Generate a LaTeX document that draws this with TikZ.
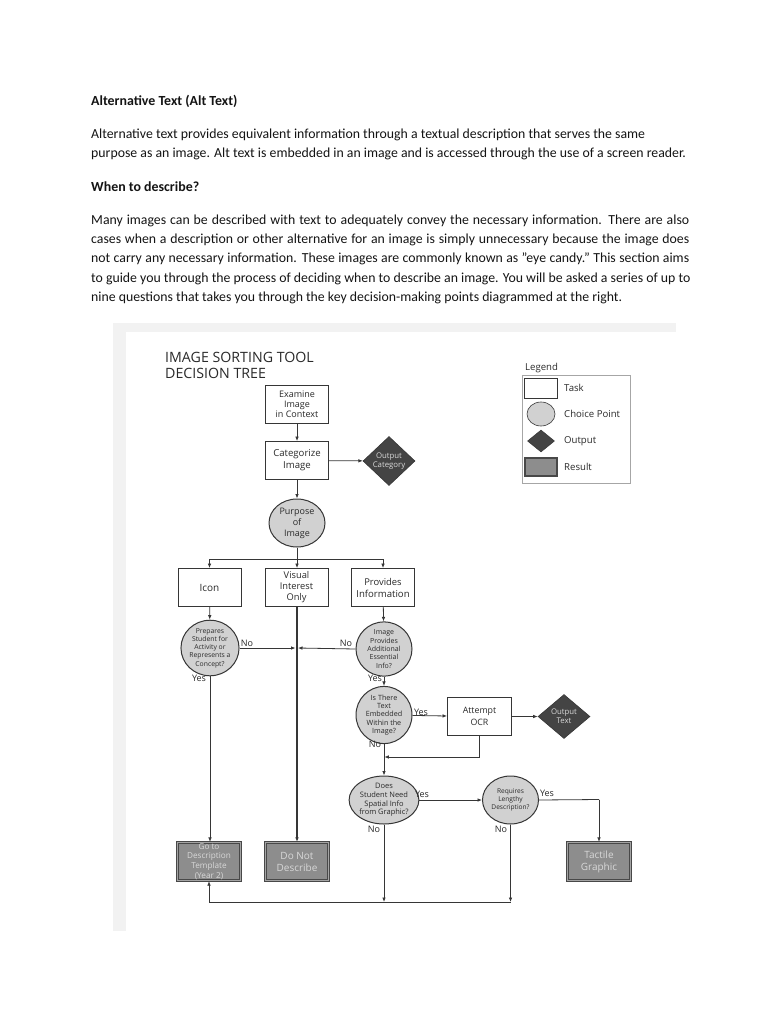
\documentclass[tikz,border=0pt]{standalone}
\usepackage{fontspec}
\setmainfont{Carlito}
\newfontfamily\dfont{Open Sans}
\usetikzlibrary{shapes.geometric,arrows.meta}
\definecolor{ln}{HTML}{363636}
\definecolor{txt}{HTML}{141414}
\definecolor{dtxt}{HTML}{2A2A2A}
\definecolor{chfill}{HTML}{D1D1D1}
\definecolor{outfill}{HTML}{444444}
\definecolor{resfill}{HTML}{8D8D8D}
\definecolor{resline}{HTML}{484848}
\definecolor{restxt}{HTML}{D8D8D8}
\definecolor{framegray}{HTML}{F2F2F2}
\newcommand{\jline}[1]{\makebox[598pt][s]{#1}}
\begin{document}
\begin{tikzpicture}[x=1pt,y=-1pt,
  body/.style={anchor=base west, inner sep=0, text=txt, font=\fontsize{13.8}{16}\selectfont},
  head/.style={body, font=\fontsize{13.9}{16}\selectfont\bfseries},
  task/.style={draw=ln, fill=white, line width=0.9pt, inner sep=0, align=center,
    minimum width=63pt, minimum height=38pt, text=dtxt, font=\dfont\fontsize{9}{10}\selectfont},
  choice/.style={ellipse, draw=ln, fill=chfill, line width=1pt, inner sep=0, align=center,
    minimum width=56pt, minimum height=48pt, text=dtxt, font=\dfont\fontsize{7}{8.3}\selectfont},
  outp/.style={diamond, draw=ln, fill=outfill, line width=0.6pt, inner sep=0, align=center,
    minimum width=52pt, minimum height=44pt, text=restxt, font=\dfont\fontsize{7.8}{9}\selectfont},
  result/.style={draw=resline, fill=resfill, line width=1.3pt, double=resfill!80!white, double distance=0.5pt,
    inner sep=0, align=center, minimum width=63pt, minimum height=38pt, text=restxt,
    font=\dfont\fontsize{10}{12}\selectfont},
  conn/.style={draw=ln, line width=0.8pt},
  arr/.style={conn, -{Latex[length=4.5pt,width=3.6pt]}},
  lab/.style={inner sep=0, text=dtxt, font=\dfont\fontsize{9}{10}\selectfont},
  leg/.style={anchor=west, inner sep=0, text=dtxt, font=\dfont\fontsize{9.6}{10}\selectfont}]
\useasboundingbox (0,0) rectangle (768,1024);
\fill[white] (0,0) rectangle (768,1024);

% ---------- page text ----------
\node[head] (t1) at (91,105.5) {Alternative Text (Alt Text)};
\node[body] (p1) at (91,138.5) {Alternative text provides equivalent information through a textual description that serves the same};
\node[body] (p2) at (91,158) {purpose as an image. Alt text is embedded in an image and is accessed through the use of a screen reader.};
\node[head] (t2) at (91,191.3) {When to describe?};
\node[body] (q1) at (91,224.3) {\jline{Many images can be described with text to adequately convey the necessary information. There are also}};
\node[body] (q2) at (91,243.6) {\jline{cases when a description or other alternative for an image is simply unnecessary because the image does}};
\node[body] (q3) at (91,262.9) {\jline{not carry any necessary information. These images are commonly known as "eye candy." This section aims}};
\node[body] (q4) at (91,282.2) {to guide you through the process of deciding when to describe an image. You will be asked a series of up to};
\node[body] (q5) at (91,301.5) {nine questions that takes you through the key decision-making points diagrammed at the right.};

% ---------- diagram frame ----------
\fill[framegray] (113,323) rectangle (676,931);
\fill[white] (126,332) rectangle (676,931);

\node[anchor=west, inner sep=0, text=dtxt, align=left, font=\dfont\fontsize{14.2}{16}\selectfont] (title) at (165,365) {IMAGE SORTING TOOL\\DECISION TREE};

% ---------- legend ----------
\node[anchor=west, inner sep=0, text=dtxt, font=\dfont\fontsize{9.6}{10}\selectfont] (legt) at (525,368) {Legend};
\draw[draw=black!35, line width=0.5pt] (522,375) rectangle (630,483);
\node[draw=ln, fill=white, line width=0.6pt, minimum width=33pt, minimum height=20pt, inner sep=0] (lt) at (541,388.5) {};
\node[ellipse, draw=ln, fill=chfill, line width=0.6pt, minimum width=28pt, minimum height=24pt, inner sep=0] (lc) at (541,414) {};
\node[diamond, draw=ln, fill=outfill, line width=0.5pt, minimum width=27pt, minimum height=22pt, inner sep=0] (lo) at (541,441) {};
\node[draw=resline, fill=resfill, line width=1.1pt, minimum width=32pt, minimum height=18pt, inner sep=0] (lr) at (541,467) {};
\node[leg] (ltt) at (564,388) {Task};
\node[leg] (lct) at (564,414) {Choice Point};
\node[leg] (lot) at (564,441) {Output};
\node[leg] (lrt) at (564,467) {Result};

% ---------- nodes ----------
\node[task] (examine) at (297,404.5) {Examine\\Image\\in Context};
\node[task, font=\dfont\fontsize{9.6}{12}\selectfont] (categ) at (297,460.5) {Categorize\\Image};
\node[outp] (outcat) at (389,461) {Output\\Category};
\node[choice, font=\dfont\fontsize{9}{11}\selectfont] (purpose) at (297,523) {Purpose\\of\\Image};

\node[task, font=\dfont\fontsize{10}{10}\selectfont] (icon) at (209.5,587.5) {Icon};
\node[task, font=\dfont\fontsize{9.3}{11}\selectfont] (visual) at (296.5,587.5) {Visual\\Interest\\Only};
\node[task, font=\dfont\fontsize{9.4}{12}\selectfont] (provides) at (383,587.5) {Provides\\{\fontsize{9.6}{12}\selectfont Information}};

\node[choice, font=\dfont\fontsize{6.8}{8.2}\selectfont] (prep) at (210,648) {Prepares\\Student for\\Activity or\\Represents a\\Concept?};
\node[choice] (imgp) at (384,649) {Image\\Provides\\Additional\\Essential\\Info?};
\node[choice, font=\dfont\fontsize{7.2}{8.3}\selectfont] (istext) at (384,715) {Is There\\Text\\Embedded\\Within the\\Image?};
\node[task, font=\dfont\fontsize{8.8}{11.5}\selectfont, minimum width=64pt] (ocr) at (479.5,716.5) {Attempt\\OCR};
\node[outp] (outtext) at (564,716.5) {Output\\Text};
\node[choice, font=\dfont\fontsize{7.5}{8.7}\selectfont] (does) at (384,800) {Does\\Student Need\\Spatial Info\\from Graphic?};
\node[choice, font=\dfont\fontsize{6.6}{8}\selectfont] (req) at (510.5,800) {Requires\\Lengthy\\Description?};

\node[result, font=\dfont\fontsize{8.2}{9.7}\selectfont] (goto) at (209,861.5) {Go to\\Description\\Template\\(Year 2)};
\node[result] (donot) at (297,861.5) {Do Not\\Describe};
\node[result] (tactile) at (599,861.5) {Tactile\\Graphic};

% ---------- helper coordinates ----------
\coordinate (brc) at (297,559);
\coordinate (brl) at (209.5,559);
\coordinate (brr) at (383,559);
\coordinate (mid1) at (295.5,648);
\coordinate (mid2) at (298,648);
\coordinate (ocrc) at (479.5,757);
\coordinate (ocrj) at (384.4,757);
\coordinate (reqc) at (599,799.5);
\coordinate (botl) at (209,902);
\coordinate (botm) at (384,902);
\coordinate (botr) at (510.5,902);

% ---------- connectors ----------
\draw[arr] (examine) -- (categ);
\draw[arr] (categ) -- (outcat);
\draw[arr] (categ) -- (purpose);
\draw[conn] (purpose.south) -- (brc);
\draw[conn] (brl) -- (brr);
\draw[arr] (brl) -- (icon.north);
\draw[arr] (brc) -- (visual.north -| brc);
\draw[arr] (brr) -- (provides.north);
\draw[arr] (icon) -- (prep);
\draw[arr] (provides) -- (imgp);
\draw[arr] (prep.east) -- (mid1);
\draw[arr] (imgp.west) -- (mid2);
\draw[arr, line width=1.3pt] (visual.south -| brc) -- (donot.north -| brc);
\draw[arr] (prep.south) -- (goto.north -| prep.south);
\draw[arr] (imgp) -- (istext);
\draw[arr] (istext) -- (ocr);
\draw[arr] (ocr) -- (outtext);
\draw[conn] (ocr.south) -- (ocrc);
\draw[arr] (ocrc) -- (ocrj);
\draw[arr] (istext) -- (does);
\draw[arr] (does) -- (req);
\draw[conn] (req.east) -- (reqc);
\draw[arr] (reqc) -- (tactile.north);
\draw[arr] (does.south) -- (botm);
\draw[arr] (req.south) -- (botr);
\draw[conn] (botl) -- (botr);
\draw[arr] (botl) -- (goto.south);

% ---------- labels ----------
\node[lab] (n1) at (247,643) {No};
\node[lab] (n2) at (346,643) {No};
\node[lab] (y1) at (199,678) {Yes};
\node[lab] (y2) at (375,678) {Yes};
\node[lab] (y3) at (421,712) {Yes};
\node[lab] (n3) at (375,744) {No};
\node[lab] (y4) at (422,794) {Yes};
\node[lab] (n4) at (374,829) {No};
\node[lab] (y5) at (547,793) {Yes};
\node[lab] (n5) at (501,829) {No};
\end{tikzpicture}
\end{document}
